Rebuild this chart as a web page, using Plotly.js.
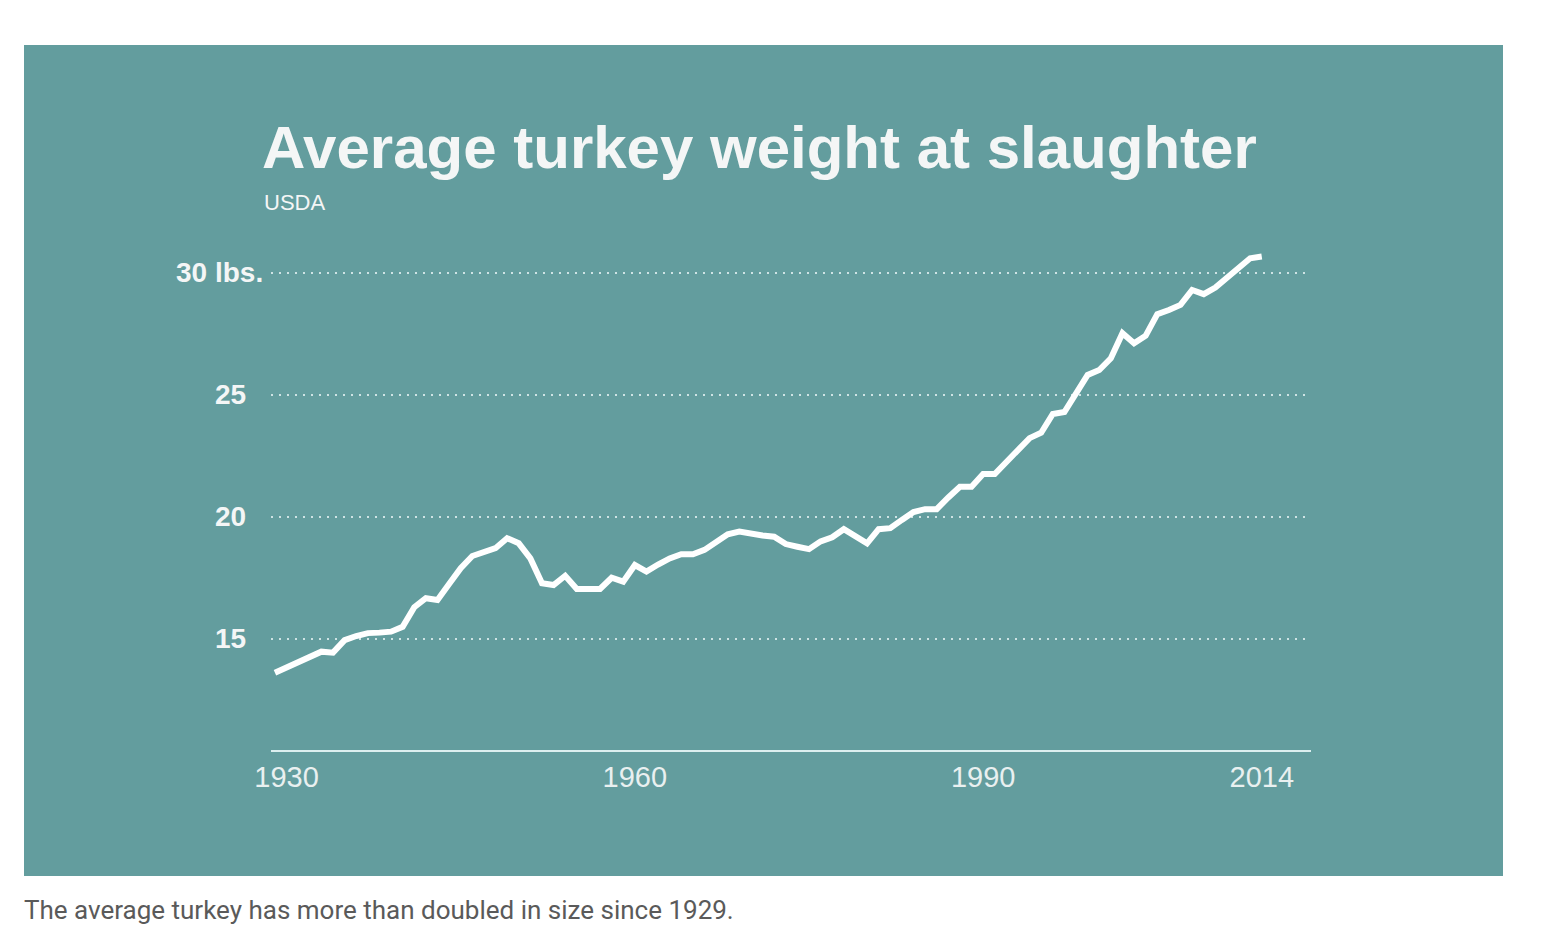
<!DOCTYPE html>
<html>
<head>
<meta charset="utf-8">
<script src="https://cdn.plot.ly/plotly-3.0.1.min.js"></script>
<style>
  html, body { margin: 0; padding: 0; background: #ffffff; }
  body { width: 1546px; height: 948px; position: relative; overflow: hidden; }
  #chart { position: absolute; left: 24px; top: 45px; width: 1479px; height: 831px; }
  #caption {
    position: absolute; left: 24px; top: 895px; margin: 0;
    font-family: "Roboto", "Liberation Sans", sans-serif;
    font-size: 26px; color: #5a5a5a;
  }
</style>
</head>
<body>
<div id="chart"></div>
<p id="caption">The average turkey has more than doubled in size since 1929.</p>
<script>
// Average live weight of turkeys at slaughter, pounds (USDA)
const years = [
  1929, 1930, 1931, 1932, 1933, 1934, 1935, 1936, 1937, 1938,
  1939, 1940, 1941, 1942, 1943, 1944, 1945, 1946, 1947, 1948,
  1949, 1950, 1951, 1952, 1953, 1954, 1955, 1956, 1957, 1958,
  1959, 1960, 1961, 1962, 1963, 1964, 1965, 1966, 1967, 1968,
  1969, 1970, 1971, 1972, 1973, 1974, 1975, 1976, 1977, 1978,
  1979, 1980, 1981, 1982, 1983, 1984, 1985, 1986, 1987, 1988,
  1989, 1990, 1991, 1992, 1993, 1994, 1995, 1996, 1997, 1998,
  1999, 2000, 2001, 2002, 2003, 2004, 2005, 2006, 2007, 2008,
  2009, 2010, 2011, 2012, 2013, 2014
];
const weights = [
  13.62, 13.84, 14.06, 14.27, 14.48, 14.44, 14.95, 15.12, 15.24, 15.26,
  15.30, 15.50, 16.30, 16.67, 16.60, 17.25, 17.90, 18.40, 18.55, 18.72,
  19.13, 18.92, 18.30, 17.28, 17.21, 17.59, 17.05, 17.05, 17.05, 17.51,
  17.35, 18.03, 17.76, 18.05, 18.30, 18.47, 18.47, 18.65, 18.97, 19.29,
  19.40, 19.29, 19.24, 19.19, 18.89, 18.78, 18.68, 19.00, 19.17, 19.50,
  19.20, 18.92, 19.50, 19.54, 19.88, 20.20, 20.32, 20.32, 20.80, 21.24,
  21.24, 21.76, 21.76, 22.25, 22.74, 23.23, 23.45, 24.22, 24.30, 25.05,
  25.82, 26.02, 26.50, 27.53, 27.12, 27.43, 28.31, 28.48, 28.69, 29.30,
  29.13, 29.40, 29.80, 30.20, 30.60, 30.67
];
const xTicks = [1930, 1960, 1990, 2014];
const yTicks = [30, 25, 20, 15];
const yTickLabels = ["30 lbs.", "25", "20", "15"];

const W = 1479, H = 831;
const M = { l: 247, r: 192, t: 205, b: 126 };
const plotW = W - M.l - M.r;
const plotH = H - M.t - M.b;

const white = "#f4f6f6";
const boldFont = '"Liberation Sans", Arial, sans-serif';

const trace = {
  x: years,
  y: weights,
  type: "scatter",
  mode: "lines",
  line: { color: "#ffffff", width: 6 },
  hoverinfo: "skip"
};

// y-axis labels sit left of the dotted grid; the top one carries the unit
const yLabels = yTicks.map((v, i) => ({
  xref: "paper", yref: "y",
  x: i === 0 ? -6 / plotW : -23 / plotW,
  y: v,
  xanchor: "right", yanchor: "middle",
  showarrow: false,
  text: "<b>" + yTickLabels[i] + "</b>",
  font: { family: boldFont, size: 28, color: white }
}));

const layout = {
  width: W, height: H,
  margin: M,
  paper_bgcolor: "#639d9e",
  plot_bgcolor: "rgba(0,0,0,0)",
  showlegend: false,
  title: {
    text: "<b>Average turkey weight at slaughter</b>",
    xref: "container", yref: "container",
    x: (262 - 24) / W, xanchor: "left",
    y: 1 - (147 - 45) / H, yanchor: "middle",
    font: { family: boldFont, size: 60, color: white }
  },
  xaxis: {
    range: [1928.66, 2018.24],
    tickmode: "array",
    tickvals: xTicks,
    ticktext: xTicks.map(String),
    ticks: "",
    showgrid: false,
    zeroline: false,
    showline: true,
    linecolor: "#dcefef",
    linewidth: 2,
    tickfont: { family: boldFont, size: 29, color: "#e9f0f0" },
    fixedrange: true
  },
  yaxis: {
    range: [10.45, 30.94],
    tickmode: "array",
    tickvals: yTicks,
    showticklabels: false,
    ticks: "",
    showgrid: true,
    gridcolor: "rgba(225,240,240,0.85)",
    gridwidth: 2,
    griddash: "2px,6px",
    zeroline: false,
    showline: false,
    fixedrange: true
  },
  annotations: [
    {
      xref: "paper", yref: "paper",
      x: (262 - 24 - M.l) / plotW, xanchor: "left",
      y: (M.t + plotH - (203 - 45)) / plotH, yanchor: "middle",
      showarrow: false,
      text: "USDA",
      font: { family: boldFont, size: 22, color: white }
    }
  ].concat(yLabels)
};

Plotly.newPlot("chart", [trace], layout, { staticPlot: true, displayModeBar: false });
</script>
</body>
</html>
